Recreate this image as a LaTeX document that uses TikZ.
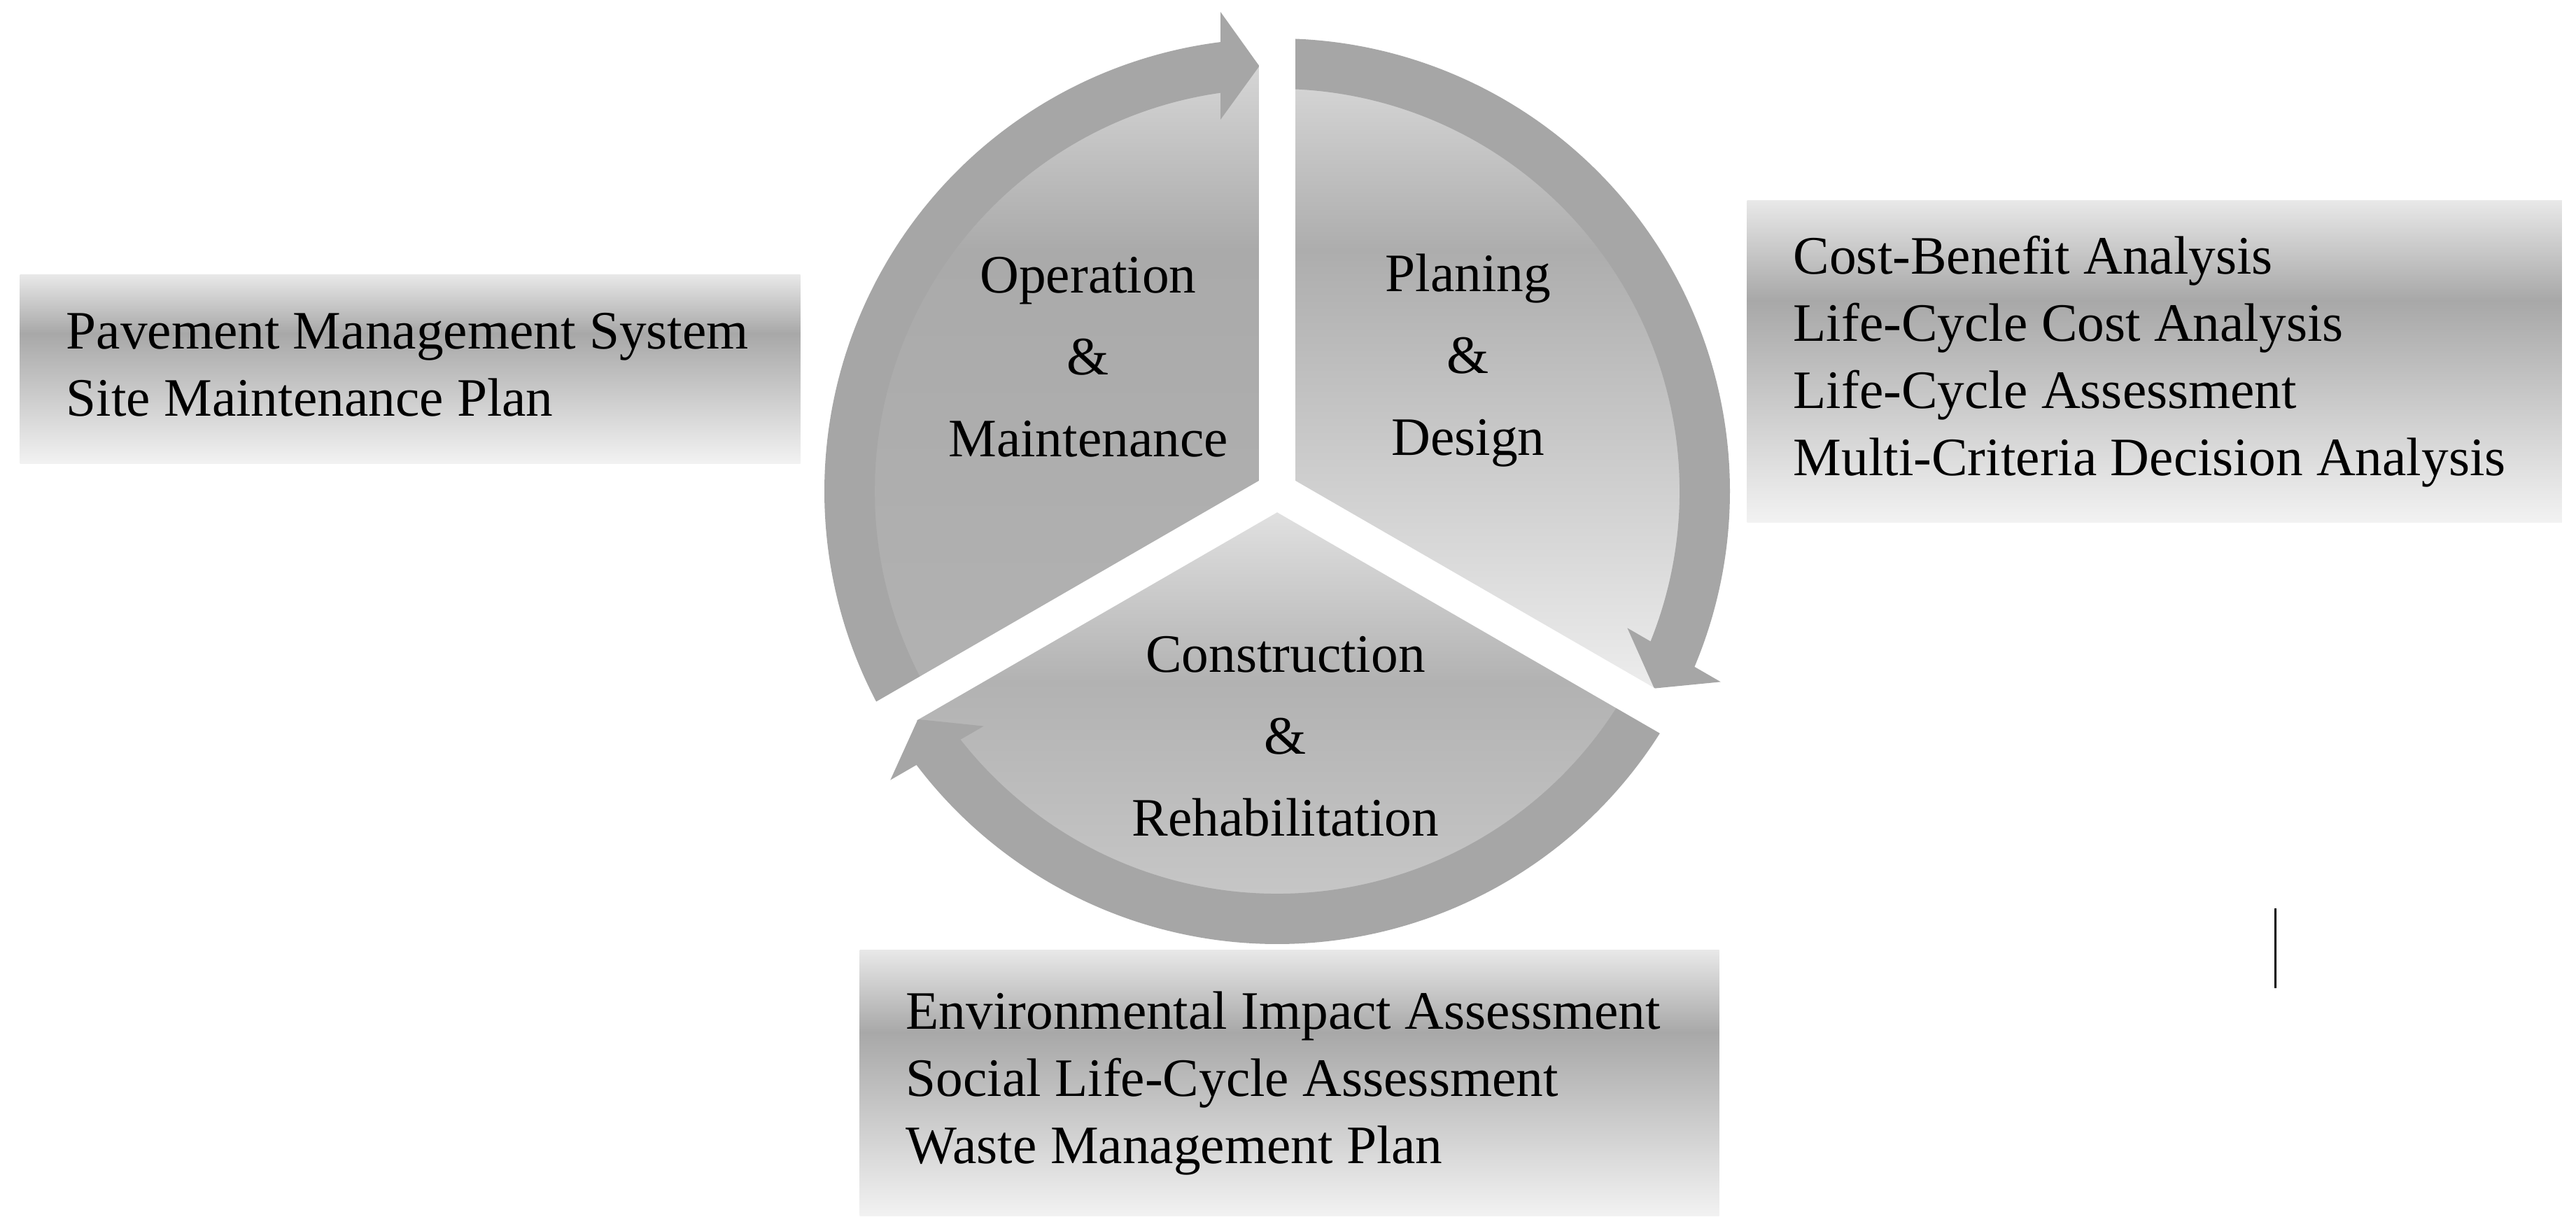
\documentclass[tikz,border=0pt]{standalone}
\usepackage{fontspec}
\setmainfont{Liberation Serif}
\usepackage{tikz}
\definecolor{ringgray}{RGB}{166,166,166}
\definecolor{boxhigh}{RGB}{232,232,232}
\definecolor{boxdark}{RGB}{168,168,168}
\definecolor{boxlow}{RGB}{242,242,242}
\definecolor{plantop}{RGB}{217,217,217}
\definecolor{plandark}{RGB}{173,173,173}
\definecolor{planlow}{RGB}{239,239,239}
\definecolor{optop}{RGB}{214,214,214}
\definecolor{opdark}{RGB}{170,170,170}
\definecolor{oplow}{RGB}{178,178,178}
\definecolor{constop}{RGB}{230,230,230}
\definecolor{consdark}{RGB}{178,178,178}
\definecolor{conslow}{RGB}{206,206,206}
\pgfdeclareverticalshading{boxshade}{100bp}{color(0bp)=(boxlow); color(25bp)=(boxlow); color(59.5bp)=(boxdark); color(75bp)=(boxhigh); color(100bp)=(boxhigh)}
\pgfdeclareverticalshading{planshade}{100bp}{color(0bp)=(planlow); color(25bp)=(planlow); color(60.5bp)=(plandark); color(75bp)=(plantop); color(100bp)=(plantop)}
\pgfdeclareverticalshading{opshade}{100bp}{color(0bp)=(oplow); color(25bp)=(oplow); color(60.5bp)=(opdark); color(75bp)=(optop); color(100bp)=(optop)}
\pgfdeclareverticalshading{consshade}{100bp}{color(0bp)=(conslow); color(25bp)=(conslow); color(55.5bp)=(consdark); color(75bp)=(constop); color(100bp)=(constop)}

\begin{document}
\begin{tikzpicture}[
    infobox/.style={shade, shading=boxshade, anchor=north west, inner xsep=0.66cm, inner ysep=0pt, align=flush left, font=\fontsize{22}{27.3}\selectfont},
    phaselabel/.style={align=center, inner sep=0pt, font=\fontsize{22}{33.4}\selectfont},
    ringarrow/.style={fill=ringgray},
    gapline/.style={draw=white, line width=0.52cm}
]
    \useasboundingbox[fill=white] (0,0) rectangle (36.81,17.59);

    % Ciclo
    \begin{scope}[shift={(18.25,10.57)}]
        % Sectores
        \shade[shading=opshade] (0,0) -- (90:6.1) arc[start angle=90, end angle=210, radius=6.1] -- cycle;
        \shade[shading=planshade] (0,0) -- (90:6.1) arc[start angle=90, end angle=-30, radius=6.1] -- cycle;
        \shade[shading=consshade] (0,0) -- (210:6.1) arc[start angle=210, end angle=330, radius=6.1] -- cycle;

        % Flechas
        \fill[ringarrow] (210:6.47) arc[start angle=210, end angle=97.19, radius=6.47] -- (-0.81,6.85) -- (-0.255,6.075) -- (-0.81,5.31) -- (-0.81,5.693) arc[start angle=98.09, end angle=210, radius=5.75] -- cycle;
        \fill[ringarrow, rotate=-120] (210:6.47) arc[start angle=210, end angle=97.19, radius=6.47] -- (-0.81,6.85) -- (-0.255,6.075) -- (-0.81,5.31) -- (-0.81,5.693) arc[start angle=98.09, end angle=210, radius=5.75] -- cycle;
        \fill[ringarrow, rotate=-240] (210:6.47) arc[start angle=210, end angle=97.19, radius=6.47] -- (-0.81,6.85) -- (-0.255,6.075) -- (-0.81,5.31) -- (-0.81,5.693) arc[start angle=98.09, end angle=210, radius=5.75] -- cycle;

        % Huecos
        \draw[gapline] (270:0.15) -- (90:7);
        \draw[gapline] (150:0.15) -- (-30:7);
        \draw[gapline] (30:0.15) -- (210:7);
    \end{scope}

    % Fases
    \node (opmaint) [phaselabel] at (15.55,12.47) {\strut Operation\\\strut\&\\\strut Maintenance};
    \node (plandesign) [phaselabel] at (20.98,12.49) {\strut Planing\\\strut\&\\\strut Design};
    \node (consrehab) [phaselabel] at (18.37,7.05) {\strut Construction\\\strut\&\\\strut Rehabilitation};

    % Cajas
    \node (pmsbox) [infobox, text width=9.83cm, minimum height=2.70cm] at (0.28,13.67) {\strut Pavement Management System\\\strut Site Maintenance Plan};
    \node (cbabox) [infobox, text width=10.32cm, minimum height=4.60cm] at (24.96,14.73) {\strut Cost-Benefit Analysis\\\strut Life-Cycle Cost Analysis\\\strut Life-Cycle Assessment\\\strut Multi-Criteria Decision Analysis};
    \node (eiabox) [infobox, text width=10.96cm, minimum height=3.80cm] at (12.28,4.02) {\strut Environmental Impact Assessment\\\strut Social Life-Cycle Assessment\\\strut Waste Management Plan};

    % Marca
    \coordinate (marktop) at (32.51,4.61);
    \coordinate (markbot) at (32.51,3.47);
    \draw[line width=0.03cm] (marktop) -- (markbot);
\end{tikzpicture}
\end{document}
